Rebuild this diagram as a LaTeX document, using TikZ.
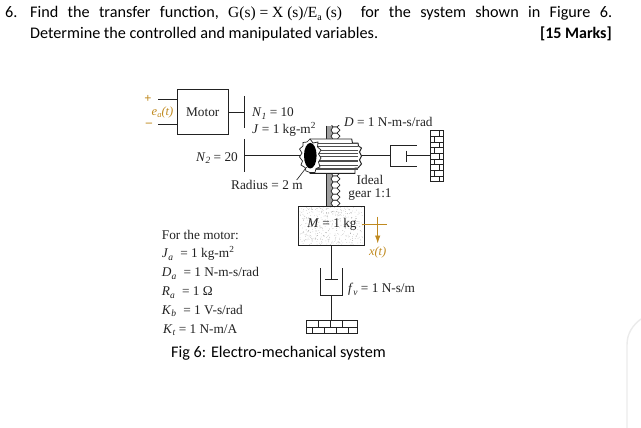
\documentclass[tikz,border=0pt]{standalone}
\usepackage{fontspec}
\setmainfont{Liberation Serif}
\newfontfamily\headfont{Carlito}
\usetikzlibrary{arrows.meta,calc}
\definecolor{ink}{HTML}{222222}
\definecolor{amber}{HTML}{C08A20}
\definecolor{rackgray}{HTML}{A0A0A0}
\tikzset{
  x=1pt,y=-1pt,
  lbl/.style={font=\fontsize{13.3}{15}\selectfont,text=ink,inner sep=0pt,anchor=base west},
  lblc/.style={font=\fontsize{13.3}{15}\selectfont,text=ink,inner sep=0pt,anchor=base},
  head/.style={font=\headfont\fontsize{16.2}{18}\selectfont,text=black,inner sep=0pt,anchor=base west},
  ln/.style={draw=ink,line width=0.95pt},
  thin ln/.style={draw=ink,line width=0.65pt},
  box/.style={draw=ink,line width=0.95pt,inner sep=0pt,fill=white},
  amb/.style={draw=amber,line width=0.95pt},
}
\newcommand{\sbs}[1]{\raisebox{-0.22em}{\fontsize{9.5}{9.5}\selectfont\textit{#1}}}
\begin{document}
\begin{tikzpicture}
\useasboundingbox (0,0) rectangle (641,428);
% faint page edge
\draw[black!8,line width=1.4pt] (627,428)--(627,345) .. controls (627,333) and (633,325) .. (641,319);
% heading
\node[head] (num) at (5,17.5) {6.};
\node[head] (q1) at (30,17.5) {\hbox to 582pt{Find\hfill the\hfill transfer\hfill function,\hfill {\fontspec{Liberation Serif}\fontsize{15.5}{18}\selectfont G(s) = X (s)/E\raisebox{-0.2em}{\fontsize{10}{10}\selectfont a} (s)}\hfill\hfill for\hfill the\hfill system\hfill shown\hfill in\hfill Figure\hfill 6.}};
\node[head] (q2) at (30,38.5) {Determine the controlled and manipulated variables.};
\node[head,anchor=base east,font=\headfont\bfseries\fontsize{16}{18}\selectfont] (marks) at (612,38.5) {[15 Marks]};
% motor
\node[box,minimum width=51pt,minimum height=44.6pt,font=\fontsize{13.3}{15}\selectfont,text=ink] (motor) at (202.8,112) {Motor};
\coordinate (wp) at (158,99.3);
\coordinate (wm) at (158,124.7);
\coordinate (mp) at (177.3,99.3);
\coordinate (mm) at (177.3,124.7);
\draw[ln] (wp)--(mp) (wm)--(mm);
\node[font=\bfseries\fontsize{12.5}{14}\selectfont,text=amber,inner sep=0pt] (plus) at (148,98.5) {+};
\node[font=\bfseries\fontsize{12.5}{14}\selectfont,text=amber,inner sep=0pt] (minus) at (149,124.5) {--};
\node[font=\fontsize{12.5}{14}\selectfont\itshape,text=amber,inner sep=0pt] (ea) at (162.5,112) {e\raisebox{-0.2em}{\fontsize{8.5}{8.5}\selectfont a}(t)};
% gear N1, N2
\coordinate (g1t) at (244,96); \coordinate (g1b) at (244,128); \coordinate (g1c) at (244,112.7);
\coordinate (g2t) at (244,139); \coordinate (g2b) at (244,172); \coordinate (g2c) at (244,155.7);
\draw[ln] (g1t)--(g1b) (g2t)--(g2b);
\draw[ln] (motor.east |- g1c)--(g1c);
\node[lbl] (n1) at (252,116.5) {\textit{N}\sbs{1} = 10};
\node[lbl] (j) at (252,133.5) {\textit{J} = 1 kg-m\textsuperscript{2}};
\node[lbl,anchor=base east] (n2) at (238,161) {\textit{N}\sbs{2} = 20};
\node[lbl] (d) at (344,127) {\textit{D} = 1 N-m-s/rad};
\node[lbl] (rad) at (231,189.5) {Radius = 2 m};
\node[lblc] (id) at (370,184) {Ideal};
\node[lblc] (gr) at (370,197) {gear 1:1};
% rack
\fill[rackgray] (326,125.7) rectangle (338,206);
\foreach \ya/\yb in {125.7/140,173/206}{
  \begin{scope}
    \clip (320,\ya) rectangle (345,\yb);
    \foreach \k in {0,...,14}{
      \pgfmathsetmacro{\yy}{121+6.1*\k}
      \filldraw[fill=white,draw=ink,line width=0.7pt] (331,\yy+3)--(333,\yy)--(337,\yy)--(340,\yy+3)--(337,\yy+6.1)--(333,\yy+6.1)--cycle;
    }
  \end{scope}
  \draw[ln] (326,\ya)--(326,\yb);
}
% shaft
\coordinate (shL) at (300,155.7);
\coordinate (shR) at (390,155.7);
\draw[ln] (g2c)--(shL);
\draw[ln] (360,155.7)--(shR);
% pinion cylinder
\filldraw[fill=white,draw=ink,line width=0.95pt] (310,139)--(351.7,139)--(352.5,143)--(358,143)--(358.5,146)--(361.5,148)--(359.5,152)--(361.5,156)--(359.5,160)--(361.5,164)--(358,168)--(355,168)--(355,173.3)--(310,173.3)--cycle;
\foreach \yy/\w in {143/0.9,146.5/1.4,150/0.8,153/0.7,157/1.0,161/1.3,165/0.9,169/1.5}{
  \draw[draw=ink!80,line width=\w pt] (312,\yy)--(358,\yy);
}
% toothed face
\filldraw[fill=white,draw=ink,line width=0.7pt]
  (310,139)--(313,143)--(318,142)--(317.5,147)--(321,150)--(318.5,154)--(321,158)--(318.5,162)--(320,167)--(316,168.5)--(315,172.5)--(310,172.5)--(306,171)--(305,167.5)--(301,165)--(302.5,161)--(299.5,157)--(302,153)--(299.5,149)--(303,146)--(303,142.5)--(307,142)--cycle;
\fill[black] (310.3,155.7) ellipse (6.3pt and 12.8pt);
% leader radius
\coordinate (rl1) at (296.7,180);
\coordinate (rl2) at (306.7,167);
\draw[thin ln] (rl1)--(rl2);
% right damper + wall
\coordinate (dTl) at (390,145.3); \coordinate (dBl) at (390,166);
\coordinate (dTr) at (416.7,145.3); \coordinate (dBr) at (416.7,166);
\draw[ln] (dTr)--(dTl)--(dBl)--(dBr);
\coordinate (pist) at (406,155.7);
\draw[ln] (406,150.7)--(406,162.3);
\coordinate (wallL) at (430.3,155.7);
\draw[ln] (pist)--(wallL);
% wall bricks
\draw[ln,fill=white] (430.3,130.7) rectangle (443.7,181.7);
\foreach \k in {1,...,8}{
  \pgfmathsetmacro{\yy}{130.7+5.67*\k}
  \draw[thin ln] (430.3,\yy)--(443.7,\yy);
}
\foreach \k in {0,...,8}{
  \pgfmathsetmacro{\ya}{130.7+5.67*\k}
  \pgfmathsetmacro{\yb}{\ya+5.67}
  \pgfmathsetmacro{\xx}{isodd(\k) ? 434.8 : 439.2}
  \draw[thin ln] (\xx,\ya)--(\xx,\yb);
}
% mass
\node[box,minimum width=65.6pt,minimum height=39.3pt] (mass) at (331.5,225.7) {};
\pgfmathsetseed{7}
\foreach \k in {1,...,420}{
  \pgfmathsetmacro{\px}{300+rnd*63}
  \pgfmathsetmacro{\py}{207+rnd*37.5}
  \fill[black!40] (\px,\py) circle (0.3pt);
}
\node[lblc,anchor=center] (mlbl) at (332,224.7) {\textit{M} = 1 kg};
% x(t)
\coordinate (xh) at (361.7,224.7);
\coordinate (xe) at (386.7,224.7);
\coordinate (xt) at (377.7,216.7);
\coordinate (xb) at (377.7,243.5);
\draw[amb] (xh)--(xe);
\draw[amb,-{Latex[length=8pt,width=5.5pt]}] (xt)--(xb);
\node[font=\fontsize{12.5}{14}\selectfont\itshape,text=amber,inner sep=0pt] (xl) at (377.7,252.5) {x(t)};
% lower dashpot
\coordinate (pisv) at (331.7,279);
\coordinate (dbot) at (331.7,295);
\coordinate (gtop) at (331.7,320.7);
\draw[ln] (mass.south -| pisv)--(pisv);
\draw[ln] (325,279)--(338.3,279);
\draw[ln] (320.7,268.3)--(320.7,295)--(342.7,295)--(342.7,268.3);
\draw[ln] (dbot)--(gtop);
\node[lbl] (fv) at (348,292.5) {\textit{f}\sbs{v} = 1 N-s/m};
% ground
\draw[ln,fill=white] (306,320.7) rectangle (357,333.3);
\draw[thin ln] (306,327)--(357,327);
\foreach \xx in {318,330,342.5}{\draw[thin ln] (\xx,320.7)--(\xx,327);}
\foreach \xx in {312,324,336,348}{\draw[thin ln] (\xx,327)--(\xx,333.3);}
% motor data
\node[lbl] (t0) at (161.7,240) {For the motor:};
\node[lbl] (t1) at (161.7,258) {\textit{J}\sbs{a}\hspace{0.55em}= 1 kg-m\textsuperscript{2}};
\node[lbl] (t2) at (161.7,276.5) {\textit{D}\sbs{a}\hspace{0.3em} = 1 N-m-s/rad};
\node[lbl] (t3) at (161.7,295.5) {\textit{R}\sbs{a}\hspace{0.3em} = 1 Ω};
\node[lbl] (t4) at (161.7,314) {\textit{K}\sbs{b}\hspace{0.3em} = 1 V-s/rad};
\node[lbl] (t5) at (163,333) {\textit{K}\sbs{t} = 1 N-m/A};
\node[head] (cap) at (171,357) {Fig 6: Electro-mechanical system};
\end{tikzpicture}
\end{document}
